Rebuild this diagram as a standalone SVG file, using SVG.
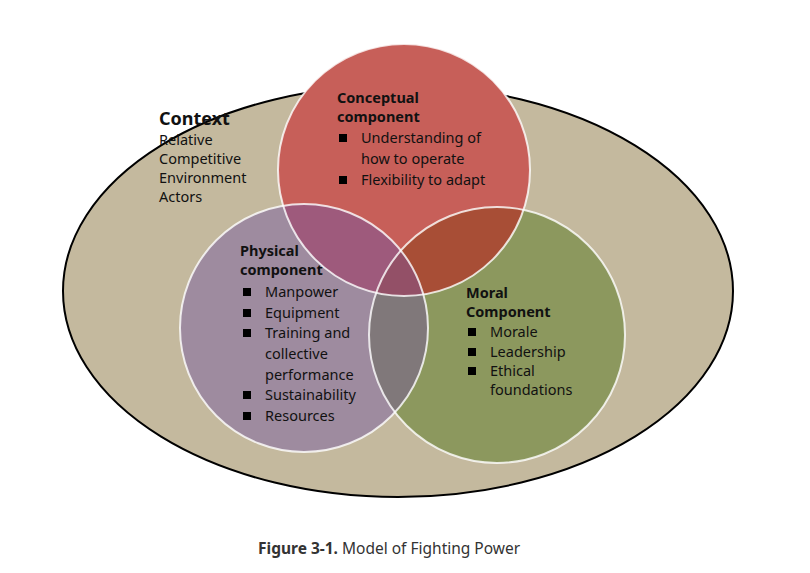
<svg xmlns="http://www.w3.org/2000/svg" width="810" height="573" viewBox="0 0 810 573">
<style>
text{font-family:"Noto Sans","Open Sans",sans-serif;font-size:14.5px;fill:#111}
.b{font-weight:bold}
.h{font-weight:bold;font-size:18px}
.c{stroke:#fff;stroke-width:2;stroke-opacity:0.8}
</style>
<defs>
<clipPath id="cc"><circle cx="404" cy="170" r="126"/></clipPath>
<clipPath id="cp"><circle cx="304" cy="328" r="124"/></clipPath>
<clipPath id="cm"><circle cx="497" cy="335" r="128"/></clipPath>
<rect id="sq" width="8" height="8" fill="#000"/>
</defs>
<rect width="810" height="573" fill="#fff"/>
<g id="context">
<ellipse cx="398" cy="291" rx="335" ry="206" fill="#c4b99e" stroke="#000" stroke-width="2"/>
<text x="159" y="125" class="h">Context</text>
<text x="159" y="145">Relative</text>
<text x="159" y="164">Competitive</text>
<text x="159" y="183">Environment</text>
<text x="159" y="202">Actors</text>
</g>
<g id="circles">
<circle cx="404" cy="170" r="126" fill="#c75f59"/>
<circle cx="497" cy="335" r="128" fill="#8c985e"/>
<circle cx="304" cy="328" r="124" fill="#9e8b9f"/>
<g clip-path="url(#cc)"><circle cx="304" cy="328" r="124" fill="#9e5a7c"/><circle cx="497" cy="335" r="128" fill="#a84e36"/></g>
<g clip-path="url(#cp)"><circle cx="497" cy="335" r="128" fill="#80787a"/></g>
<g clip-path="url(#cc)"><g clip-path="url(#cp)"><circle cx="497" cy="335" r="128" fill="#935067"/></g></g>
<circle class="c" cx="404" cy="170" r="126" fill="none"/>
<circle class="c" cx="497" cy="335" r="128" fill="none"/>
<circle class="c" cx="304" cy="328" r="124" fill="none"/>
</g>
<g id="conceptual">
<text x="337" y="103" class="b">Conceptual</text>
<text x="337" y="122" class="b">component</text>
<use href="#sq" x="339" y="134"/><text x="361" y="143">Understanding of</text>
<text x="361" y="164">how to operate</text>
<use href="#sq" x="339" y="176"/><text x="361" y="185">Flexibility to adapt</text>
</g>
<g id="physical">
<text x="240" y="256" class="b">Physical</text>
<text x="240" y="275" class="b">component</text>
<use href="#sq" x="243" y="288"/><text x="265" y="297">Manpower</text>
<use href="#sq" x="243" y="309"/><text x="265" y="318">Equipment</text>
<use href="#sq" x="243" y="329"/><text x="265" y="338">Training and</text>
<text x="265" y="359">collective</text>
<text x="265" y="380">performance</text>
<use href="#sq" x="243" y="391"/><text x="265" y="400">Sustainability</text>
<use href="#sq" x="243" y="412"/><text x="265" y="421">Resources</text>
</g>
<g id="moral">
<text x="466" y="298" class="b">Moral</text>
<text x="466" y="317" class="b">Component</text>
<use href="#sq" x="468" y="328"/><text x="490" y="337">Morale</text>
<use href="#sq" x="468" y="348"/><text x="490" y="357">Leadership</text>
<use href="#sq" x="468" y="367"/><text x="490" y="376">Ethical</text>
<text x="490" y="395">foundations</text>
</g>
<text x="258" y="554" style="font-size:15.5px;fill:#333"><tspan font-weight="bold">Figure 3-1.</tspan> Model of Fighting Power</text>
</svg>
